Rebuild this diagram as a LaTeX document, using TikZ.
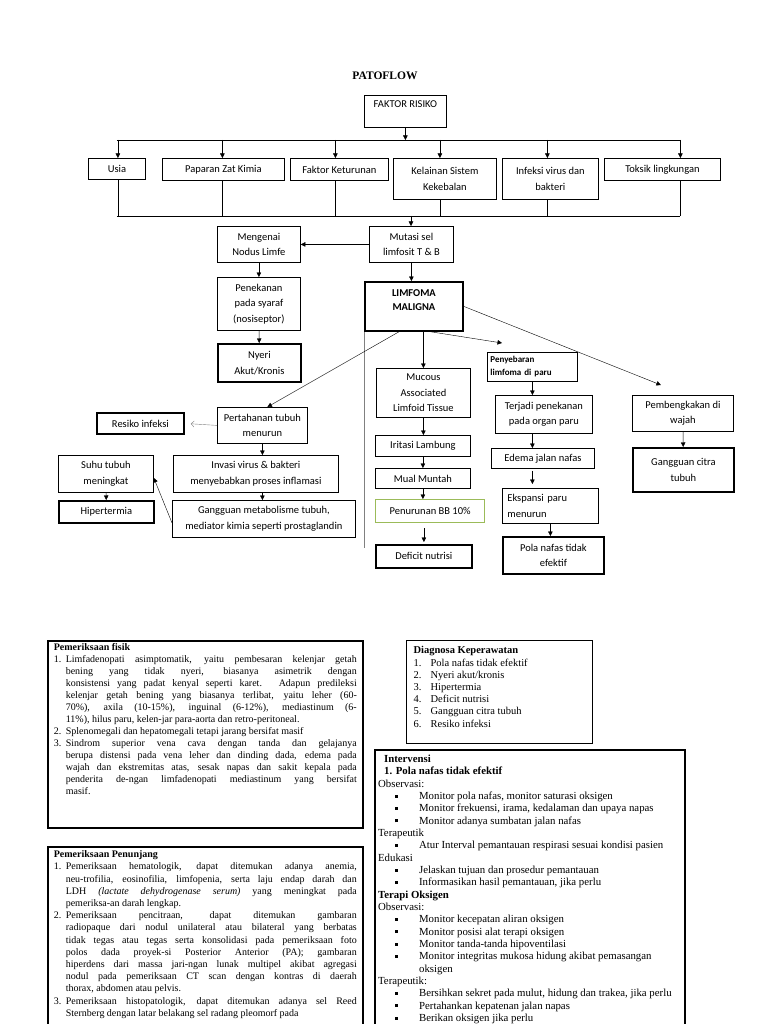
\documentclass[tikz,border=0pt]{standalone}
\usepackage{fontspec}
\setmainfont{Liberation Serif}
\newfontfamily\calibri{Carlito}
\usetikzlibrary{arrows.meta}
\definecolor{bbgreen}{RGB}{155,187,89}
\tolerance=9999 \hbadness=10000 \vbadness=10000
\newcommand{\numitem}[2][12pt]{\par\hangindent=#1\hangafter=1\noindent\makebox[#1][l]{#2}}
\newcommand{\bul}{\hspace*{17pt}\makebox[24pt][l]{\rule[2pt]{2.8pt}{2.8pt}}}

\begin{document}
\begin{tikzpicture}[x=1pt,y=-1pt,>={Triangle[length=4.5pt,width=4.5pt]},
    box/.style n args={2}{draw,line width=0.8pt,anchor=north west,inner sep=1pt,
      minimum width=#1pt,minimum height=#2pt,align=center,
      font=\calibri\fontsize{10.5}{15.5}\selectfont},
    thickbox/.style n args={2}{box={#1}{#2},line width=1.8pt},
    textbox/.style={draw,anchor=north west,inner xsep=6pt,inner ysep=3pt}]
  \fill[white] (0,0) rectangle (768,1024);
  \useasboundingbox (0,0) rectangle (768,1024);

  \node[font=\bfseries\fontsize{11.5}{14}\selectfont] (title) at (385,76) {PATOFLOW};
  \node[box={82}{32},text depth=14pt] (faktor) at (364,95) {FAKTOR RISIKO};

  \node[box={57}{21}] (usia) at (88,158) {Usia};
  \node[box={122}{22}] (paparan) at (162,158) {Paparan Zat Kimia};
  \node[box={98}{22}] (keturunan) at (290,158) {Faktor Keturunan};
  \node[box={103}{41}] (kelainan) at (393,158) {Kelainan Sistem\\Kekebalan};
  \node[box={96}{41}] (infeksi) at (502,158) {Infeksi virus dan\\bakteri};
  \node[box={116}{22}] (toksik) at (604,158) {Toksik lingkungan};

  \coordinate (bustop) at (405,140);
  \coordinate (busbot) at (411,216);
  \draw[->] (faktor.south) -- (faktor.south |- bustop);
  \draw (usia.north |- bustop) -- ([xshift=18pt]toksik.north |- bustop);
  \draw (usia.south |- busbot) -- ([xshift=18pt]toksik.south |- busbot);
  \foreach \n/\d in {usia/1,paparan/-1,keturunan/-4,kelainan/-5,infeksi/-3,toksik/18}{
    \draw[->] ([xshift=\d pt]\n.north |- bustop) -- ([xshift=\d pt]\n.north);
    \draw ([xshift=\d pt]\n.south) -- ([xshift=\d pt]\n.south |- busbot);
  }

  \node[box={84}{36}] (mutasi) at (369,226) {Mutasi sel\\limfosit T \& B};
  \node[box={83}{36}] (mengenai) at (217,226) {Mengenai\\Nodus Limfe};
  \node[box={83}{53}] (penekanan) at (217,277) {Penekanan\\pada syaraf\\(nosiseptor)};
  \node[thickbox={83}{38}] (nyeri) at (217,343) {Nyeri\\Akut/Kronis};
  \node[thickbox={98}{49},text width=90pt,text depth=27pt,
    font=\calibri\bfseries\fontsize{10.5}{14}\selectfont] (limfoma) at (364,281) {LIMFOMA\\MALIGNA};
  \coordinate (vend) at (364,548);

  \node[box={94}{49}] (mucous) at (376,368) {Mucous\\Associated\\Limfoid Tissue};
  \node[box={95}{21}] (iritasi) at (375,435) {Iritasi Lambung};
  \node[box={95}{20}] (mual) at (375,468) {Mual Muntah};
  \node[box={109}{23},draw=bbgreen,line width=1.2pt] (penurunan) at (375,499) {Penurunan BB 10\%};
  \node[thickbox={96}{23}] (deficit) at (375,544) {Deficit nutrisi};

  \node[box={90}{29},align=left,text width=84pt,inner xsep=3pt,
    font=\calibri\bfseries\fontsize{9}{13}\selectfont] (penyebaran) at (487,352) {Penyebaran\\limfoma di paru};
  \node[box={97}{38}] (terjadi) at (495,395) {Terjadi penekanan\\pada organ paru};
  \node[box={103}{20}] (edema) at (491,448) {Edema jalan nafas};
  \node[box={96}{35},align=left,text width=86pt,inner xsep=5pt] (ekspansi) at (502,488) {Ekspansi paru\\menurun};
  \node[thickbox={101}{37}] (pola) at (502,536) {Pola nafas tidak\\efektif};

  \node[box={101}{36}] (bengkak) at (632,395) {Pembengkakan di\\wajah};
  \node[thickbox={101}{44}] (citra) at (632,447) {Gangguan citra\\tubuh};

  \node[box={90}{36}] (pertahanan) at (217,407) {Pertahanan tubuh\\menurun};
  \node[thickbox={87}{21}] (resiko) at (96,412) {Resiko infeksi};
  \node[box={165}{37}] (invasi) at (173,455) {Invasi virus \& bakteri\\menyebabkan proses inflamasi};
  \node[box={183}{37}] (gangguan) at (172,500) {Gangguan metabolisme tubuh,\\mediator kimia seperti prostaglandin};
  \node[box={95}{37}] (suhu) at (58,455) {Suhu tubuh\\meningkat};
  \node[thickbox={95}{22}] (hiper) at (58,500) {Hipertermia};

  \draw[->] (busbot) -- (busbot |- mutasi.north);
  \draw[->] (mutasi.west) -- (mengenai.east);
  \draw[->] (mengenai) -- (penekanan);
  \draw[->] (penekanan) -- (nyeri);
  \draw[->] (mutasi.south) -- (mutasi.south |- limfoma.north);
  \draw[gray] (limfoma.south west) -- (vend);
  \draw[->] ([xshift=-15pt]limfoma.south) -- ([xshift=5pt]pertahanan.north);
  \draw[->] (mucous.north |- limfoma.south) -- (mucous.north);
  \draw[->] ([xshift=17pt]limfoma.south) -- ([xshift=15pt,yshift=9pt]penyebaran.north west);
  \draw[->] (limfoma.east) -- ([xshift=-22pt,yshift=10pt]bengkak.north);

  \draw[->] (mucous.south) -- (mucous.south |- iritasi.north);
  \draw[->] (iritasi) -- (mual);
  \draw[->] (mual.south) -- (mual.south |- penurunan.north);
  \draw[->,shorten <=5pt,shorten >=2pt] (penurunan.south -| deficit.north) -- (deficit.north);

  \draw[->] (penyebaran.south) -- (penyebaran.south |- terjadi.north);
  \draw[->] (penyebaran.south |- terjadi.south) -- (penyebaran.south |- edema.north);
  \draw[->,shorten <=2pt,shorten >=4pt] (penyebaran.south |- edema.south) -- (penyebaran.south |- ekspansi.north);
  \draw[->] (ekspansi.south) -- (ekspansi.south |- pola.north);
  \draw[->] (bengkak) -- (citra);

  \draw[-{Straight Barb[length=3pt,width=6pt]},gray,shorten >=6pt] (pertahanan.west) -- (resiko.east);
  \draw[->] (pertahanan.south) -- (pertahanan.south |- invasi.north);
  \draw[->] (pertahanan.south |- invasi.south) -- (pertahanan.south |- gangguan.north);
  \draw[->] (suhu) -- (hiper);
  \draw[->] ([yshift=-4pt]gangguan.west) -- ([yshift=-4pt]suhu.east);

  \node[textbox,line width=1.6pt] (fisik) at (47,640) {\parbox[t][181pt][t]{303pt}{\fontsize{10}{12}\selectfont
    \textbf{Pemeriksaan fisik}
    \numitem{1.}Limfadenopati asimptomatik, yaitu pembesaran kelenjar getah\linebreak
    bening yang tidak nyeri, biasanya asimetrik dengan\linebreak
    konsistensi yang padat kenyal seperti karet. Adapun predileksi\linebreak
    kelenjar getah bening yang biasanya terlibat, yaitu leher (60-\linebreak
    70\%), axila (10-15\%), inguinal (6-12\%), mediastinum (6-\linebreak
    11\%), hilus paru, kelen-jar para-aorta dan retro-peritoneal.
    \numitem{2.}Splenomegali dan hepatomegali tetapi jarang bersifat masif
    \numitem{3.}Sindrom superior vena cava dengan tanda dan gelajanya\linebreak
    berupa distensi pada vena leher dan dinding dada, edema pada\linebreak
    wajah dan ekstremitas atas, sesak napas dan sakit kepala pada\linebreak
    penderita de-ngan limfadenopati mediastinum yang bersifat\linebreak
    masif.}};

  \node[textbox,line width=1.6pt,inner ysep=4pt] (penunjang) at (47,846) {\parbox[t][200pt][t]{303pt}{\fontsize{10}{12.2}\selectfont
    \textbf{Pemeriksaan Penunjang}
    \numitem{1.}Pemeriksaan hematologik, dapat ditemukan adanya anemia,\linebreak
    neu-trofilia, eosinofilia, limfopenia, serta laju endap darah dan\linebreak
    LDH \textit{(lactate dehydrogenase serum)} yang meningkat pada\linebreak
    pemeriksa-an darah lengkap.
    \numitem{2.}Pemeriksaan pencitraan, dapat ditemukan gambaran\linebreak
    radiopaque dari nodul unilateral atau bilateral yang berbatas\linebreak
    tidak tegas atau tegas serta konsolidasi pada pemeriksaan foto\linebreak
    polos dada proyek-si Posterior Anterior (PA); gambaran\linebreak
    hiperdens dari massa jari-ngan lunak multipel akibat agregasi\linebreak
    nodul pada pemeriksaan CT scan dengan kontras di daerah\linebreak
    thorax, abdomen atau pelvis.
    \numitem{3.}Pemeriksaan histopatologik, dapat ditemukan adanya sel Reed\linebreak
    Sternberg dengan latar belakang sel radang pleomorf pada}};

  \node[textbox,line width=1.2pt,inner xsep=7pt,inner ysep=6pt] (diagnosa) at (406,640) {\parbox[t][91pt][t]{172pt}{\fontsize{10.5}{12.2}\selectfont
    \textbf{Diagnosa Keperawatan}
    \numitem[17pt]{1.}Pola nafas tidak efektif
    \numitem[17pt]{2.}Nyeri akut/kronis
    \numitem[17pt]{3.}Hipertermia
    \numitem[17pt]{4.}Deficit nutrisi
    \numitem[17pt]{5.}Gangguan citra tubuh
    \numitem[17pt]{6.}Resiko infeksi}};

  \node[textbox,line width=2.2pt,inner xsep=3pt,inner ysep=5pt] (intervensi) at (374,749) {\parbox[t][300pt][t]{304pt}{\fontsize{10.8}{12.33}\selectfont\raggedright
    \hspace*{6pt}\textbf{Intervensi}\\
    \hspace*{6pt}\textbf{1. Pola nafas tidak efektif}\\
    Observasi:\\
    \bul Monitor pola nafas, monitor saturasi oksigen\\
    \bul Monitor frekuensi, irama, kedalaman dan upaya napas\\
    \bul Monitor adanya sumbatan jalan nafas\\
    Terapeutik\\
    \bul Atur Interval pemantauan respirasi sesuai kondisi pasien\\
    Edukasi\\
    \bul Jelaskan tujuan dan prosedur pemantauan\\
    \bul Informasikan hasil pemantauan, jika perlu\\
    \textbf{Terapi Oksigen}\\
    Observasi:\\
    \bul Monitor kecepatan aliran oksigen\\
    \bul Monitor posisi alat terapi oksigen\\
    \bul Monitor tanda-tanda hipoventilasi\\
    \bul Monitor integritas mukosa hidung akibat pemasangan\\
    \hspace*{41pt}oksigen\\
    Terapeutik:\\
    \bul Bersihkan sekret pada mulut, hidung dan trakea, jika perlu\\
    \bul Pertahankan kepatenan jalan napas\\
    \bul Berikan oksigen jika perlu}};
\end{tikzpicture}
\end{document}
